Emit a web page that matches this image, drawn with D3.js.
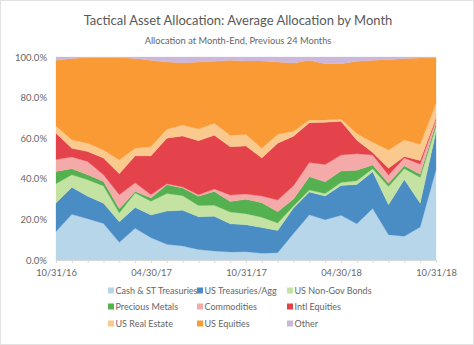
<!DOCTYPE html>
<html>
<head>
<meta charset="utf-8" />
<script src="https://cdn.jsdelivr.net/npm/d3@7"></script>
<style>
  body { margin: 0; background: #fff; }
  text { font-family: Lato, "Noto Sans", sans-serif; }
</style>
</head>
<body>
<div id="chart"></div>
<script>
// month-end dates
var months = ["10/31/16","11/30/16","12/31/16","01/31/17","02/28/17","03/31/17","04/30/17","05/31/17","06/30/17",
  "07/31/17","08/31/17","09/30/17","10/31/17","11/30/17","12/31/17","01/31/18","02/28/18","03/31/18","04/30/18",
  "05/31/18","06/30/18","07/31/18","08/31/18","09/30/18","10/31/18"];
var tickLabels = ["10/31/16","04/30/17","10/31/17","04/30/18","10/31/18"];
var yTicks = [0, 0.2, 0.4, 0.6, 0.8, 1.0];

var seriesNames = ["Cash & ST Treasuries","US Treasuries/Agg","US Non-Gov Bonds","Precious Metals","Commodities",
  "Intl Equities","US Real Estate","US Equities","Other"];
var colors = ["#b8d6ea","#4a8dc5","#c4e3a3","#55b04f","#f5aaaa","#e5434c","#f9c98e","#fa9a34","#cbb7dc"];

// values in percent, one per month
var cash   = [14.0,22.5,20.3,18.0,8.7,15.6,11.0,7.7,6.9,5.2,4.4,3.9,4.1,3.3,3.6,13.1,22.3,19.8,22.0,17.8,25.4,12.5,11.7,16.2,44.5];
var tsy    = [14.1,13.3,11.1,10.0,10.1,10.3,11.2,16.4,17.6,16.1,17.1,13.9,13.3,12.7,10.9,12.5,11.2,11.7,14.7,19.4,18.1,14.7,27.9,11.8,18.7];
var nongov = [9.5,6.2,8.1,8.5,4.4,7.1,6.7,8.6,7.2,5.5,5.5,5.8,5.4,5.0,3.7,1.0,1.0,1.2,1.5,1.8,1.5,9.0,5.4,12.7,2.4];
var metals = [6.0,3.0,2.5,2.2,2.0,0.8,1.7,4.4,3.8,4.6,6.8,5.2,7.1,7.2,5.6,3.4,6.5,5.8,5.6,5.2,1.8,1.6,1.4,1.5,1.8];
var comm   = [5.9,5.7,6.5,3.3,7.0,4.2,1.6,0.5,0.5,0.8,1.2,3.2,2.6,3.3,5.7,6.6,7.0,8.5,7.9,8.1,4.9,4.1,3.9,5.0,1.6];
var intl   = [12.9,4.4,4.9,8.2,10.3,13.3,19.1,22.4,25.1,26.6,26.5,23.8,23.7,18.7,28.0,24.4,19.6,20.8,16.6,6.7,1.3,3.3,0.7,1.8,0.9];
var reit   = [3.6,4.1,4.1,4.0,6.8,3.8,4.6,4.4,5.4,5.7,5.9,5.7,5.6,4.8,4.5,2.4,1.4,1.2,1.2,3.3,5.0,9.0,8.1,8.0,7.2];
var useq   = [32.4,40.0,42.2,45.5,50.4,44.1,42.5,33.1,30.7,33.0,30.5,36.9,36.2,43.0,35.5,33.7,29.4,27.7,27.2,35.6,40.4,44.5,40.1,42.5,22.6];
var other  = [1.6,0.8,0.3,0.3,0.3,0.8,1.6,2.5,2.8,2.5,2.1,1.6,2.0,2.0,2.5,2.9,1.6,3.3,3.3,2.1,1.6,1.3,0.8,0.5,0.3];

var seriesVals = [cash, tsy, nongov, metals, comm, intl, reit, useq, other];

var width = 474, height = 345;
var margin = { top: 57, right: 38, bottom: 85, left: 56 };
var font = "Lato, 'Noto Sans', sans-serif";

var svg = d3.select("#chart").append("svg")
  .attr("width", width)
  .attr("height", height);

svg.append("rect")
  .attr("x", 0.5).attr("y", 0.5)
  .attr("width", width - 1).attr("height", height - 1)
  .attr("fill", "#fff").attr("stroke", "#e2e2e2");

// rows for the stack
var rows = months.map(function (m, i) {
  var r = { month: m };
  seriesNames.forEach(function (s, k) { r[s] = seriesVals[k][i] / 100; });
  return r;
});

var stack = d3.stack().keys(seriesNames).offset(d3.stackOffsetExpand);
var layers = stack(rows);

var x = d3.scalePoint().domain(months).range([margin.left, width - margin.right]);
var y = d3.scaleLinear().domain([0, 1]).range([height - margin.bottom, margin.top]);

var area = d3.area()
  .x(function (d) { return x(d.data.month); })
  .y0(function (d) { return y(d[0]); })
  .y1(function (d) { return y(d[1]); });

svg.append("g").selectAll("path")
  .data(layers)
  .enter()
  .append("path")
  .attr("fill", function (d, i) { return colors[i]; })
  .attr("stroke", function (d, i) { return colors[i]; })
  .attr("stroke-width", 0.3)
  .attr("d", area);

// titles
svg.append("text")
  .attr("x", width / 2 + 1).attr("y", 25)
  .attr("text-anchor", "middle")
  .attr("font-size", "13px")
  .attr("fill", "#595959")
  .text("Tactical Asset Allocation: Average Allocation by Month");

svg.append("text")
  .attr("x", width / 2 + 1).attr("y", 44)
  .attr("text-anchor", "middle")
  .attr("font-size", "9.3px")
  .attr("fill", "#666")
  .text("Allocation at Month-End, Previous 24 Months");

// y axis
var yAxis = d3.axisLeft(y)
  .tickValues(yTicks)
  .tickFormat(d3.format(".1%"))
  .tickSize(0)
  .tickPadding(9);
var gy = svg.append("g")
  .attr("transform", "translate(" + margin.left + ",0)")
  .call(yAxis);
gy.select(".domain").remove();
gy.selectAll("text").attr("font-size", "9.5px").attr("fill", "#666")
  .style("font-family", font);

// x axis: month ticks, labels every 6 months
var xAxis = d3.axisBottom(x)
  .tickSize(3)
  .tickPadding(6)
  .tickFormat(function (d) { return tickLabels.indexOf(d) >= 0 ? d : ""; });
var gx = svg.append("g")
  .attr("transform", "translate(0," + (height - margin.bottom) + ")")
  .call(xAxis);
gx.select(".domain").attr("stroke", "#d9d9d9");
gx.selectAll("line").attr("stroke", "#d9d9d9");
gx.selectAll("text").attr("font-size", "9.3px").attr("fill", "#666")
  .style("font-family", font);

// legend
var legCols = [108, 197, 287];
var legRows = [291, 307, 324];
var legend = svg.append("g").selectAll("g")
  .data(seriesNames)
  .enter()
  .append("g")
  .attr("transform", function (d, i) {
    return "translate(" + legCols[i % 3] + "," + legRows[Math.floor(i / 3)] + ")";
  });
legend.append("rect")
  .attr("x", 0).attr("y", -3.5)
  .attr("width", 6).attr("height", 6)
  .attr("fill", function (d, i) { return colors[i]; });
legend.append("text")
  .attr("x", 7.5).attr("y", 0)
  .attr("dy", "0.35em")
  .attr("font-size", "9px")
  .attr("fill", "#666")
  .text(function (d) { return d; });
</script>
</body>
</html>
